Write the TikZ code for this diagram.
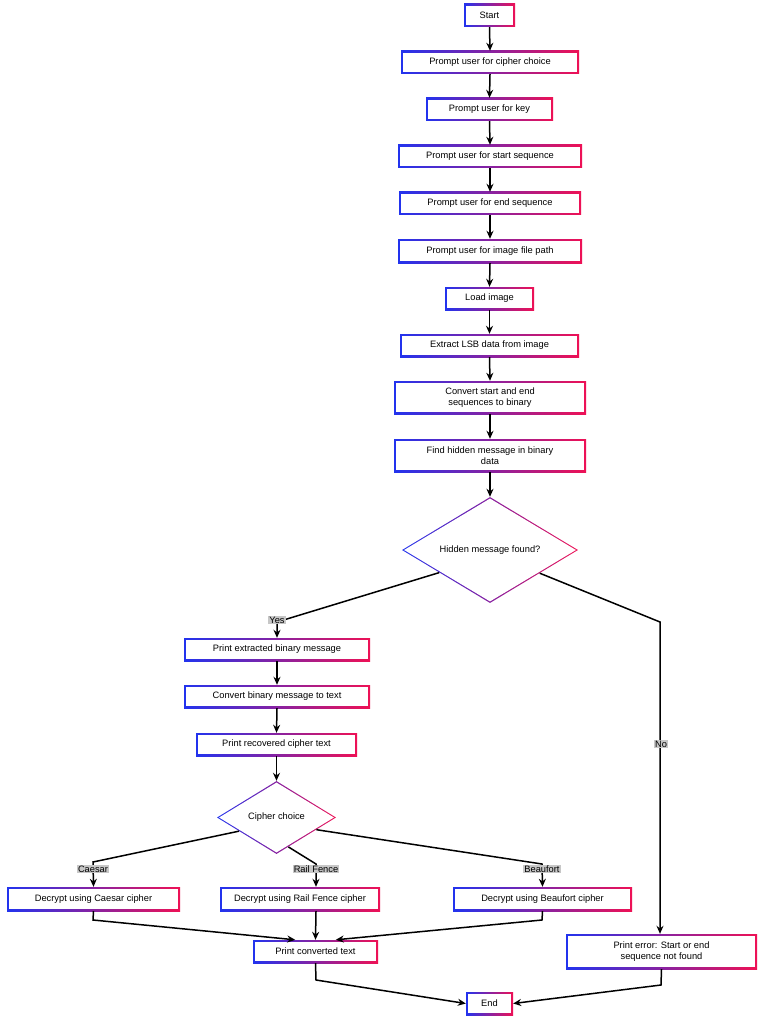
\documentclass[tikz,border=0pt]{standalone}
\usepackage{fontspec}
\setmainfont{Liberation Sans}
\usetikzlibrary{shapes.geometric,arrows.meta}
\definecolor{gB}{HTML}{2233EE}
\definecolor{gR}{HTML}{EE1155}
\tikzset{
 txt/.style={font=\fontsize{9.3}{11}\selectfont,align=center,inner sep=0pt},
 arr/.style={line width=1.5pt,-{Stealth[length=8pt,width=7pt]}},
 lab/.style={fill=black!22,font=\fontsize{9.3}{11}\selectfont,inner sep=1pt}
}
\newcommand\gbox[6]{%
 \shade[left color=gB,right color=gR] (#2-#4/2,#3-#5/2) rectangle (#2+#4/2,#3+#5/2);
 \fill[white] (#2-#4/2+1.8,#3-#5/2+1.8) rectangle (#2+#4/2-1.8,#3+#5/2-1.8);
 \node[txt,minimum width=#4pt,minimum height=#5pt] (#1) at (#2,#3) {#6};}
\newcommand\gdia[6]{%
 \node[diamond,left color=gB,right color=gR,draw=none,inner sep=0pt,minimum width=#4pt,minimum height=#5pt] (#1) at (#2,#3) {};
 \node[diamond,fill=white,inner sep=0pt,minimum width=#4pt-4pt,minimum height=#5pt-3pt] at (#2,#3) {};
 \node[txt] at (#2,#3) {#6};}
\begin{document}
\begin{tikzpicture}[x=1pt,y=-1pt]
\fill[white] (0,0) rectangle (768,1024);
\useasboundingbox (0,0) rectangle (768,1024);
\gbox{s}{489.5}{15.5}{51}{23}{Start}
\gbox{p1}{490}{62.5}{178}{23}{Prompt user for cipher choice}
\gbox{p2}{489.5}{109.5}{127}{23}{Prompt user for key}
\gbox{p3}{490}{156.5}{184}{23}{Prompt user for start sequence}
\gbox{p4}{490}{203.5}{182}{23}{Prompt user for end sequence}
\gbox{p5}{490}{251}{184}{24}{Prompt user for image file path}
\gbox{li}{489.5}{298.5}{89}{23}{Load image}
\gbox{ex}{489.5}{345.5}{179}{23}{Extract LSB data from image}
\gbox{cv}{490}{397.5}{192}{33}{Convert start and end\\sequences to binary}
\gbox{fd}{490}{455.5}{192}{33}{Find hidden message in binary\\data}
\gdia{d1}{490}{550}{176}{106}{Hidden message found?}
\gbox{pe}{277}{649.5}{186}{23}{Print extracted binary message}
\gbox{cb}{277}{696.5}{186}{23}{Convert binary message to text}
\gbox{pr}{276.5}{744.5}{161}{23}{Print recovered cipher text}
\gdia{d2}{276.5}{817.5}{119}{73}{Cipher choice}
\gbox{ca}{93.5}{899}{173}{24}{Decrypt using Caesar cipher}
\gbox{rf}{300}{899}{160}{24}{Decrypt using Rail Fence cipher}
\gbox{bf}{542.5}{899}{179}{24}{Decrypt using Beaufort cipher}
\gbox{pc}{315.5}{951.5}{125}{23}{Print converted text}
\gbox{er}{661.5}{951.5}{191}{35}{Print error: Start or end\\sequence not found}
\gbox{en}{489.5}{1003.5}{47}{23}{End}
\foreach \a/\b in {s/p1,p1/p2,p2/p3,p3/p4,p4/p5,p5/li,li/ex,ex/cv,cv/fd,fd/d1,pe/cb,cb/pr,pr/d2}
  \draw[arr] (\a.south) -- (\b.north);
\draw[arr] (d1.-156) -- (277,622) -- (pe.north);
\node[lab] at (277,620) {Yes};
\draw[arr] (d1.-25) -- (660,622) -- (660,630) -- (er.north -| 660,0);
\node[lab] at (661,744) {No};
\draw[arr] (d2.-160) -- (93,862) -- (ca.north);
\node[lab] at (93,869) {Caesar};
\draw[arr] (d2.-68) -- (316,864) -- (rf.north -| 316,0);
\node[lab] at (316,869) {Rail Fence};
\draw[arr] (d2.-17) -- (542,864) -- (bf.north);
\node[lab] at (542,869) {Beaufort};
\draw[arr] (ca.south) -- (93,920) -- (pc.150);
\draw[arr] (rf.south -| 316,0) -- (pc.north);
\draw[arr] (bf.south) -- (542,920) -- (pc.30);
\draw[arr] (pc.south) -- (316,980) -- (en.west);
\draw[arr] (er.south) -- (661,985) -- (en.east);
\end{tikzpicture}
\end{document}
